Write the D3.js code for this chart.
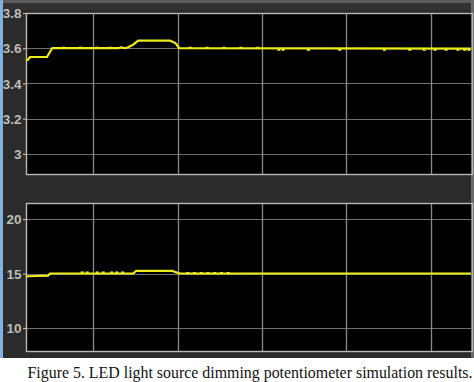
<!DOCTYPE html>
<html><head><meta charset="utf-8">
<script src="https://cdn.jsdelivr.net/npm/d3@7"></script>
<style>html,body{margin:0;padding:0;background:#fff;}svg{display:block;}</style>
</head><body>
<svg id="chart" width="474" height="382"></svg>
<script>
// ---- data ----
const xTicks = [1, 2, 3, 4, 5];
const xDomain = [0.205, 5.475];

const voltageTicks = [3, 3.2, 3.4, 3.6, 3.8];
const voltageTime  = [0.205, 0.229, 0.253, 0.454, 0.514, 1.297, 1.332, 1.380, 1.415, 1.474, 1.534, 1.913, 1.973, 2.020, 5.475];
const voltageValue = [3.53, 3.535, 3.55, 3.55, 3.60, 3.60, 3.605, 3.60, 3.605, 3.62, 3.643, 3.643, 3.63, 3.60, 3.598];
const voltageDotTime  = [0.65, 0.85, 1.05, 1.20, 2.15, 2.35, 2.55, 2.75, 2.95, 3.20, 3.25, 3.55, 3.92, 4.45, 4.75, 4.92, 5.05, 5.18, 5.32, 5.40, 5.45];
const voltageDotValue = [3.603, 3.603, 3.603, 3.603, 3.603, 3.603, 3.603, 3.603, 3.603, 3.592, 3.592, 3.592, 3.592, 3.592, 3.592, 3.592, 3.592, 3.592, 3.592, 3.592, 3.592];

const currentTicks = [10, 15, 20];
const currentTime  = [0.205, 0.229, 0.466, 0.490, 1.475, 1.510, 1.937, 1.985, 2.032, 5.475];
const currentValue = [14.7, 14.75, 14.8, 15.0, 15.0, 15.25, 15.25, 15.1, 15.0, 15.0];
const currentDotTime  = [0.87, 0.93, 1.05, 1.12, 1.22, 1.28, 1.35, 2.12, 2.20, 2.28, 2.36, 2.44, 2.52, 2.60];
const currentDotValue = [15.1, 15.1, 15.1, 15.1, 15.1, 15.1, 15.1, 15.05, 15.05, 15.05, 15.05, 15.05, 15.05, 15.05];

const caption = "Figure 5. LED light source dimming potentiometer simulation results.";

// ---- drawing ----
const svg = d3.select("#chart");
const W = 474;
const frameBg = "#2b2b2b";
const yellow = "#ecec1a";

svg.append("rect").attr("x", 0).attr("y", 0).attr("width", W).attr("height", 358).attr("fill", frameBg);
svg.append("rect").attr("x", 0).attr("y", 0).attr("width", W).attr("height", 3).attr("fill", "#5c5c5c");
svg.append("rect").attr("x", 0).attr("y", 3).attr("width", W).attr("height", 7).attr("fill", "#333");
svg.append("rect").attr("x", 0).attr("y", 0).attr("width", 3).attr("height", 358).attr("fill", "#7fb2de");
svg.append("rect").attr("x", 471).attr("y", 0).attr("width", 3).attr("height", 358).attr("fill", "#6a6a6a");

const x = d3.scaleLinear().domain(xDomain).range([26, 471]);

function panel(top, bottom, yDomain, yTicks, time, vals, dotT, dotV) {
  const y = d3.scaleLinear().domain(yDomain).range([bottom, top]);
  const g = svg.append("g");
  g.append("rect").attr("x", 26).attr("y", top).attr("width", 445).attr("height", bottom - top).attr("fill", "#000");
  // grid
  g.selectAll(".hg").data(yTicks).enter().append("line")
    .attr("x1", 26).attr("x2", 471)
    .attr("y1", d => Math.round(y(d)) + 0.5).attr("y2", d => Math.round(y(d)) + 0.5)
    .attr("stroke", "#6f6f6f").attr("stroke-width", 1.2);
  g.selectAll(".vg").data(xTicks).enter().append("line")
    .attr("x1", d => Math.round(x(d)) + 0.5).attr("x2", d => Math.round(x(d)) + 0.5)
    .attr("y1", top).attr("y2", bottom)
    .attr("stroke", "#8a8a8a").attr("stroke-width", 1.3);
  // border
  g.append("rect").attr("x", 26.5).attr("y", top + 0.5).attr("width", 446).attr("height", bottom - top - 1)
    .attr("fill", "none").attr("stroke", "#b8b8b8").attr("stroke-width", 1.4);
  // y axis labels
  const ax = d3.axisLeft(y).tickValues(yTicks).tickSize(3).tickPadding(1.5).tickFormat(d3.format("~g"));
  const axg = g.append("g").attr("transform", "translate(26,0)").call(ax);
  axg.select(".domain").remove();
  axg.selectAll("line").attr("stroke", "#b8b8b8").attr("stroke-width", 1.2);
  axg.selectAll("text").attr("fill", "#bdbdbd").attr("font-family", "Liberation Sans, Arial, sans-serif")
    .attr("font-size", 13.5).attr("font-weight", "600").attr("dy", "0.35em");
  // series
  const pts = time.map((t, i) => [t, vals[i]]);
  const line = d3.line().x(d => x(d[0])).y(d => y(d[1]));
  g.append("path").attr("d", line(pts)).attr("fill", "none").attr("stroke", yellow)
    .attr("stroke-width", 2.2).attr("stroke-linejoin", "round");
  g.selectAll(".dot").data(dotT.map((t, i) => [t, dotV[i]])).enter().append("rect")
    .attr("x", d => x(d[0]) - 1.5).attr("y", d => y(d[1]) - 1)
    .attr("width", 3).attr("height", 2.2).attr("fill", yellow);
}

panel(13, 175, [2.88, 3.8], voltageTicks, voltageTime, voltageValue, voltageDotTime, voltageDotValue);
panel(203, 352, [7.8, 21.47], currentTicks, currentTime, currentValue, currentDotTime, currentDotValue);

svg.append("text").attr("x", 250).attr("y", 378).attr("text-anchor", "middle")
  .attr("font-family", "Liberation Serif, Times New Roman, serif").attr("font-size", 16)
  .attr("fill", "#111").attr("textLength", 445).attr("lengthAdjust", "spacingAndGlyphs").text(caption);
</script>
</body></html>
